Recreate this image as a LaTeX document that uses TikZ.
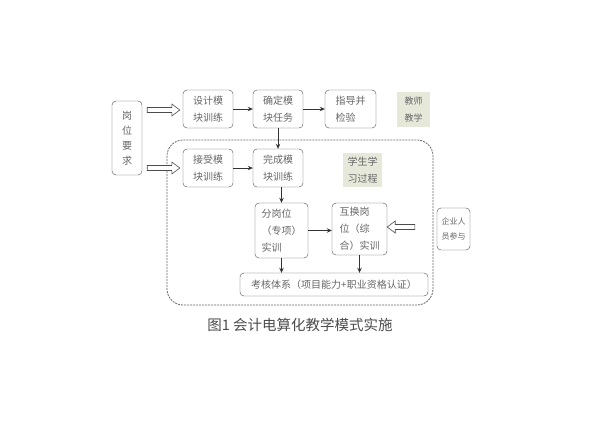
\documentclass[tikz,border=0pt]{standalone}
\usepackage{fontspec}
\newfontfamily\cjk{Noto Sans CJK SC}
\usetikzlibrary{calc,arrows.meta}

\definecolor{tagbg}{RGB}{230,232,218}

% open block arrow between two named coordinates (horizontal)
\newcommand{\hollowarrow}[2]{%
  \draw[hollow] let \p1=(#1), \p2=(#2), \p3=($(#2)!8pt!(#1)$) in
    (\x1,\y1-2.5pt) -- (\x3,\y1-2.5pt) -- (\x3,\y1-6pt) -- (\x2,\y1)
    -- (\x3,\y1+6pt) -- (\x3,\y1+2.5pt) -- (\x1,\y1+2.5pt) -- cycle;}

\begin{document}
\begin{tikzpicture}[
    x=1pt, y=-1pt,
    box/.style={draw=black!70, rounded corners=4pt, inner sep=0pt, align=left,
        text=black!60, font=\cjk\fontsize{10}{17}\selectfont},
    tag/.style={fill=tagbg, inner sep=0pt, align=left,
        text=black!60, font=\cjk\fontsize{10}{17}\selectfont},
    flow/.style={-{Stealth[length=5pt,width=4.5pt]}, line width=1pt, draw=black!80},
    hollow/.style={draw=black!70, fill=white, line width=0.6pt},
    frame/.style={draw=black!60, dashed, dash pattern=on 2pt off 1pt, rounded corners=16pt, line width=0.8pt}
]
\useasboundingbox (0,0) rectangle (591,434);

% student frame
\draw[frame] (167,140) rectangle (433,305);

\node[box, minimum width=30, minimum height=74, font=\cjk\fontsize{10}{15}\selectfont]
    (req) at (127,138) {岗\\位\\要\\求};

\node[box, minimum width=50, minimum height=38] (design) at (208,109) {设计模\\块训练};
\node[box, minimum width=50, minimum height=38] (fix) at (278,109) {确定模\\块任务};
\node[box, minimum width=51, minimum height=38] (guide) at (350.5,109) {指导并\\检验};
\node[tag, minimum width=33, minimum height=35, font=\cjk\fontsize{9}{17}\selectfont]
    (teacher) at (413.5,109.5) {教师\\教学};

\node[box, minimum width=50, minimum height=38] (accept) at (208,168) {接受模\\块训练};
\node[box, minimum width=50, minimum height=38] (done) at (278,168) {完成模\\块训练};
\node[tag, minimum width=39, minimum height=34] (student) at (362.5,170) {学生学\\习过程};

\node[box, minimum width=53, minimum height=55] (post) at (281.5,230.5) {分岗位\\（专项）\\实训};
\node[box, minimum width=55, minimum height=52] (swap) at (359.5,229) {互换岗\\位（综\\合）实训};
\node[box, minimum width=33, minimum height=42, font=\cjk\fontsize{8}{15}\selectfont]
    (firm) at (453.5,229) {企业人\\员参与};

\node[box, minimum width=188, minimum height=23] (exam) at (334,284.5)
    {考核体系（项目能力+职业资格认证）};

\node[text=black!70, font=\cjk\fontsize{14.5}{16}\selectfont] (title) at (300,325)
    {图1 会计电算化教学模式实施};

\draw[flow] (design) -- (fix);
\draw[flow] (fix) -- (guide);
\draw[flow] (fix.south) -- (done.north);
\draw[flow] (accept) -- (done);
\draw[flow] (post.north |- done.south) -- (post.north);
\draw[flow] (post.east) -- (post.east -| swap.west);
\draw[flow] (post.south) -- (post.south |- exam.north);
\draw[flow] (swap.south) -- (swap.south |- exam.north);

\coordinate (a1) at ($(req.east |- design.west)+(5,1)$);
\coordinate (b1) at ($(design.west)+(-3,1)$);
\coordinate (a2) at ($(req.east |- accept.west)+(5,0)$);
\coordinate (b2) at ($(accept.west)+(-3,0)$);
\coordinate (a3) at ($(firm.west)+(-22,-2)$);
\coordinate (b3) at ($(swap.east)+(0,-2)$);
\hollowarrow{a1}{b1}
\hollowarrow{a2}{b2}
\hollowarrow{a3}{b3}
\end{tikzpicture}
\end{document}
